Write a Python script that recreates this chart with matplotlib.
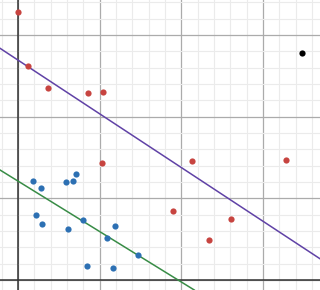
import matplotlib
matplotlib.use("Agg")
import matplotlib.pyplot as plt
import numpy as np

# data (grid units: minor line = 1, major = 5)
red_x = [0.02, 0.61, 1.82, 4.29, 5.19, 5.14, 10.66, 16.43, 9.51, 13.03, 11.72]
red_y = [16.43, 13.09, 11.74, 11.43, 11.53, 7.18, 7.29, 7.33, 4.24, 3.74, 2.47]
blue_x = [0.92, 1.41, 2.96, 3.37, 3.55, 1.10, 1.45, 3.06, 3.98, 5.94, 5.45, 7.35, 4.24, 5.80]
blue_y = [6.08, 5.62, 5.98, 6.04, 6.47, 3.98, 3.45, 3.10, 3.69, 3.31, 2.55, 1.51, 0.84, 0.73]
black_x = [17.39]
black_y = [13.92]
# boundary lines: (intercept, slope)
purple_line = (13.47, -0.658)
green_line = (6.06, -0.618)

RED, BLUE, GREEN, PURPLE = "#c74440", "#2d70b3", "#388c46", "#6042a6"

fig = plt.figure(figsize=(3.2, 2.9), dpi=100)
ax = fig.add_axes([0, 0, 1, 1])
ax.set_xlim(-1.1, 18.49)
ax.set_ylim(-0.61, 17.15)

# grid: minor every unit, major every 5
for v in np.arange(-1, 19):
    c, lw = ("#ababab", 0.9) if v % 5 == 0 else ("#ebebeb", 0.8)
    ax.axvline(v, color=c, lw=lw, zorder=0)
for v in np.arange(-1, 18):
    c, lw = ("#ababab", 0.9) if v % 5 == 0 else ("#ebebeb", 0.8)
    ax.axhline(v, color=c, lw=lw, zorder=0)
ax.axhline(0, color="#333", lw=1.1, zorder=1)
ax.axvline(0, color="#333", lw=1.1, zorder=1)

for (b, m), col in [(purple_line, PURPLE), (green_line, GREEN)]:
    ax.axline((0, b), slope=m, color=col, lw=1.1, zorder=2)

ax.scatter(red_x, red_y, s=20, color=RED, zorder=3, linewidths=0)
ax.scatter(blue_x, blue_y, s=20, color=BLUE, zorder=3, linewidths=0)
ax.scatter(black_x, black_y, s=20, color="black", zorder=3, linewidths=0)

ax.axis("off")
fig.savefig("out.png", dpi=100)
